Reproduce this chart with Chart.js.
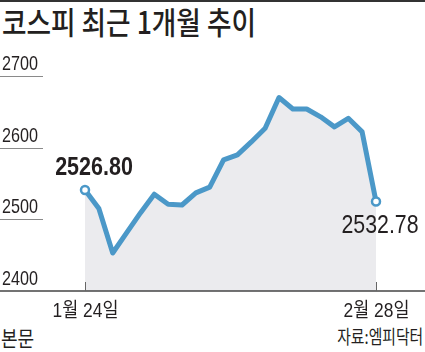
<!DOCTYPE html>
<html>
<head>
<meta charset="utf-8">
<script src="https://cdn.jsdelivr.net/npm/chart.js@4"></script>
<style>
  body { margin: 0; background: #fff; }
  #wrap { position: relative; width: 425px; height: 352px; overflow: hidden; }
  #topline { position: absolute; left: 0; top: 0; width: 425px; height: 2px; background: #333; }
  .txt { position: absolute; white-space: nowrap; font-family: 'Noto Sans CJK KR', sans-serif; color: #231f20; transform-origin: left top; }
  #title { left: 2px; top: 5px; font-size: 31px; line-height: 31px; font-weight: 500; transform: scaleX(0.86); }
  #note { left: 1px; top: 326px; font-size: 21px; line-height: 22px; transform: scaleX(0.86); }
  #source { right: 2px; top: 326px; font-size: 19px; line-height: 20px; transform: scaleX(0.78); transform-origin: right top; }
  canvas { position: absolute; left: 0; top: 0; }
</style>
</head>
<body>
<div id="wrap">
  <div id="topline"></div>
  <div class="txt" id="title">코스피 최근 1개월 추이</div>
  <div class="txt" id="note">본문</div>
  <div class="txt" id="source">자료:엠피닥터</div>
  <canvas id="chart" width="425" height="352"></canvas>
</div>
<script>
// trading days, 2025-01-24 .. 2025-02-28
const dates = ['1/24', '1/31', '2/3', '2/4', '2/5', '2/6', '2/7', '2/10', '2/11', '2/12', '2/13',
               '2/14', '2/17', '2/18', '2/19', '2/20', '2/21', '2/24', '2/25', '2/26', '2/27', '2/28'];
const kospi = [2541, 2515, 2453, 2481, 2509, 2535, 2521, 2520, 2537, 2545, 2583,
               2590, 2608, 2627, 2670, 2654, 2654, 2643, 2629, 2641, 2622, 2525];
const yTicks = [2400, 2500, 2600, 2700];
const xTickIndex = [0, 21];
const xTickLabels = ['1월 24일', '2월 28일'];
const endLabels = ['2526.80', '2532.78'];

const numFont = "'Liberation Sans', 'Noto Sans CJK KR', sans-serif";
const blue = '#4b98c8';

// the original uses a condensed face, so squeeze the text horizontally
function squeezeText(ctx, text, x, y, font, sx, align) {
    ctx.save();
    ctx.font = font;
    ctx.textAlign = align;
    ctx.textBaseline = 'alphabetic';
    ctx.translate(x, y);
    ctx.scale(sx, 1);
    ctx.fillText(text, 0, 0);
    ctx.restore();
}

const decorPlugin = {
    id: 'decor',
    beforeDatasetsDraw(chart) {
        const ctx = chart.ctx;
        const y = chart.scales.y;
        ctx.save();
        ctx.fillStyle = '#231f20';
        yTicks.forEach(function (v) {
            const py = Math.round(y.getPixelForValue(v)) + 0.5;
            if (v !== yTicks[0]) {
                ctx.strokeStyle = '#8a8a8a';
                ctx.lineWidth = 1;
                ctx.beginPath();
                ctx.moveTo(0, py);
                ctx.lineTo(43, py);
                ctx.stroke();
            }
            squeezeText(ctx, String(v), 2, py - 7, '21px ' + numFont, 0.77, 'left');
        });
        ctx.restore();
    },
    afterDatasetsDraw(chart) {
        const ctx = chart.ctx;
        const x = chart.scales.x;
        const area = chart.chartArea;
        const meta = chart.getDatasetMeta(0);
        ctx.save();
        // baseline axis
        ctx.strokeStyle = '#444';
        ctx.lineWidth = 1.5;
        ctx.beginPath();
        ctx.moveTo(0, area.bottom);
        ctx.lineTo(425, area.bottom);
        ctx.stroke();
        // x ticks
        ctx.lineWidth = 1;
        ctx.strokeStyle = '#666';
        ctx.fillStyle = '#231f20';
        xTickIndex.forEach(function (idx, i) {
            const px = Math.round(x.getPixelForValue(idx)) + 0.5;
            ctx.beginPath();
            ctx.moveTo(px, area.bottom - 9);
            ctx.lineTo(px, area.bottom);
            ctx.stroke();
            squeezeText(ctx, xTickLabels[i], px, area.bottom + 26, '20px ' + numFont, 0.87, 'center');
        });
        // value labels at first and last point
        const first = meta.data[0];
        const last = meta.data[meta.data.length - 1];
        squeezeText(ctx, endLabels[0], first.x + 9, first.y - 15, 'bold 25px ' + numFont, 0.86, 'center');
        squeezeText(ctx, endLabels[1], last.x + 4, last.y + 32, '26px ' + numFont, 0.82, 'center');
        ctx.restore();
    }
};

const ctx = document.getElementById('chart').getContext('2d');
const chart = new Chart(ctx, {
    type: 'line',
    data: {
        labels: dates,
        datasets: [{
            data: kospi,
            borderColor: blue,
            borderWidth: 5,
            borderJoinStyle: 'round',
            fill: 'start',
            backgroundColor: '#ebebee',
            tension: 0,
            clip: false,
            pointRadius: function (c) {
                return (c.dataIndex === 0 || c.dataIndex === kospi.length - 1) ? 4 : 0;
            },
            pointBackgroundColor: '#fff',
            pointBorderColor: blue,
            pointBorderWidth: 2.5
        }]
    },
    options: {
        responsive: false,
        animation: false,
        layout: { padding: { left: 85, right: 49, top: 76, bottom: 61 } },
        plugins: { legend: { display: false }, tooltip: { enabled: false } },
        scales: {
            x: { display: false },
            y: { display: false, min: 2400, max: 2700 }
        }
    },
    plugins: [decorPlugin]
});
</script>
</body>
</html>
